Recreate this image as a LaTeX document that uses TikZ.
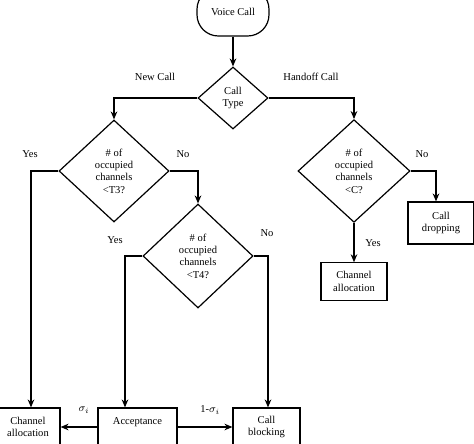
\documentclass[tikz,border=0pt]{standalone}
\usepackage{fontspec}
\setmainfont{Liberation Serif}
\usetikzlibrary{shapes.geometric,arrows.meta}
\begin{document}
\begin{tikzpicture}[x=0.75pt,y=-0.75pt,
  every node/.style={font=\fontsize{7.9}{9.3}\selectfont, align=center},
  decision/.style={draw, diamond, inner sep=0pt, line width=0.9pt},
  box/.style={draw, rectangle, inner sep=0pt, line width=0.9pt},
  conn/.style={line width=0.9pt},
  arr/.style={conn, -{Stealth[length=6pt,width=5pt]}},
  lbl/.style={inner sep=0pt}]
\useasboundingbox (0,0) rectangle (474,443);
\clip (0,0) rectangle (474,443);
% nodes
\node[box, rounded corners=16pt, minimum width=54pt, minimum height=36pt] (start) at (233,12) {Voice Call};
\node[decision, minimum width=52.5pt, minimum height=46.5pt] (ctype) at (233,98) {Call\\Type};
\node[decision, minimum width=82.5pt, minimum height=76.5pt] (t3) at (114,171) {\# of\\occupied\\channels\\<T3?};
\node[decision, minimum width=82.5pt, minimum height=78pt] (t4) at (198,256) {\# of\\occupied\\channels\\<T4?};
\node[decision, minimum width=84pt, minimum height=77pt] (cc) at (354,171) {\# of\\occupied\\channels\\<C?};
\node[box, minimum width=49.5pt, minimum height=31.5pt] (drop) at (441,223) {Call\\dropping};
\node[box, minimum width=49.5pt, minimum height=28pt] (alloc2) at (354,281.5) {Channel\\allocation};
\node[box, minimum width=48pt, minimum height=28.5pt] (alloc1) at (28,427) {Channel\\allocation};
\node[box, minimum width=59.25pt, minimum height=28.5pt] (acc) at (137.5,427) {Acceptance\\\phantom{A}};
\node[box, minimum width=50.25pt, minimum height=28.5pt] (block) at (266.5,427) {Call\\blocking};
% labels
\node[lbl] (lnew) at (155,77) {New Call};
\node[lbl] (lhand) at (311,77) {Handoff Call};
\node[lbl] (ly1) at (30,154) {Yes};
\node[lbl] (ln1) at (183,154) {No};
\node[lbl] (ly2) at (115,240) {Yes};
\node[lbl] (ln2) at (267,233) {No};
\node[lbl] (ln3) at (422,154) {No};
\node[lbl] (ly3) at (373,243) {Yes};
\node[lbl] (ls) at (84,410) {$\sigma_i$};
\node[lbl] (l1s) at (210,410) {1-$\sigma_i$};
% connectors
\draw[arr] (start) -- (ctype);
\draw[arr] (ctype.west) -| (t3.north);
\draw[arr] (ctype.east) -| (cc.north);
\draw[arr] (t3.west) -| (alloc1.north -| 31,0);
\draw[arr] (t3.east) -| (t4.north);
\draw[arr] (t4.west) -| (acc.north -| 125,0);
\draw[arr] (t4.east) -| (block.north -| 268,0);
\draw[arr] (cc.east) -| (drop.north -| 436,0);
\draw[arr] (cc.south) -- (alloc2.north);
\draw[arr] (acc.west) -- (alloc1.east);
\draw[arr] (acc.east) -- (block.west);
\end{tikzpicture}
\end{document}
